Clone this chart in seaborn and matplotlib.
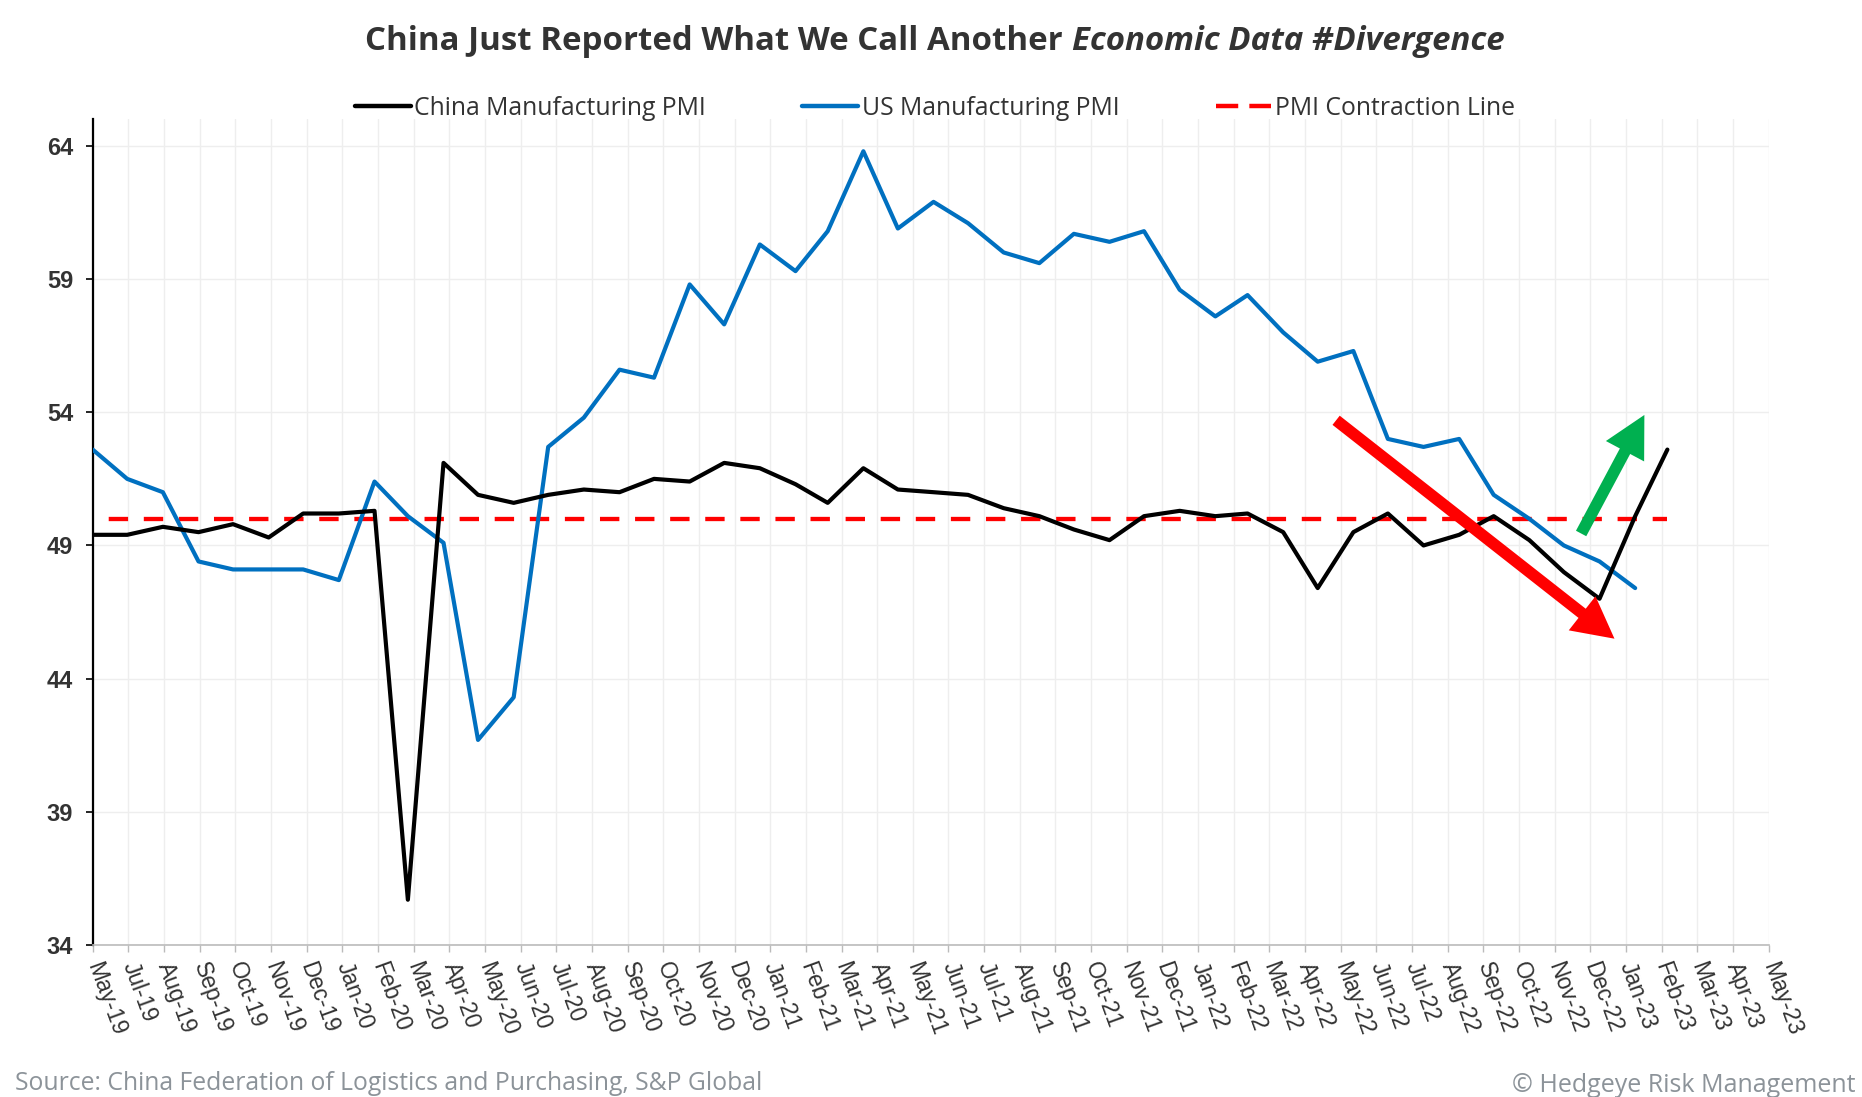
import matplotlib
matplotlib.use("Agg")
import matplotlib.pyplot as plt
import matplotlib.dates as mdates
from matplotlib.lines import Line2D
from matplotlib.patches import FancyArrowPatch
from matplotlib.offsetbox import TextArea, HPacker, AnchoredOffsetbox
import seaborn as sns
import pandas as pd

# ---------------- data ----------------
china_dates = pd.date_range(start="2019-05-31", end="2023-02-28", freq="ME")
us_dates = pd.date_range(start="2019-05-31", end="2023-01-31", freq="ME")

china_pmi = [49.4, 49.4, 49.7, 49.5, 49.8, 49.3, 50.2, 50.2,
             50.3, 35.7, 52.1, 50.9, 50.6, 50.9, 51.1, 51.0, 51.5, 51.4, 52.1, 51.9,
             51.3, 50.6, 51.9, 51.1, 51.0, 50.9, 50.4, 50.1, 49.6, 49.2, 50.1, 50.3,
             50.1, 50.2, 49.5, 47.4, 49.5, 50.2, 49.0, 49.4, 50.1, 49.2, 48.0, 47.0,
             50.1, 52.6]
us_pmi = [52.6, 51.5, 51.0, 48.4, 48.1, 48.1, 48.1, 47.7,
          51.4, 50.1, 49.1, 41.7, 43.3, 52.7, 53.8, 55.6, 55.3, 58.8, 57.3, 60.3,
          59.3, 60.8, 63.8, 60.9, 61.9, 61.1, 60.0, 59.6, 60.7, 60.4, 60.8, 58.6,
          57.6, 58.4, 57.0, 55.9, 56.3, 53.0, 52.7, 53.0, 50.9, 50.0, 49.0, 48.4,
          47.4]
contraction_level = 50.0

y_ticks = [34, 39, 44, 49, 54, 59, 64]
x_tick_labels = ["May-19", "Jul-19", "Aug-19", "Sep-19", "Oct-19", "Nov-19", "Dec-19",
                 "Jan-20", "Feb-20", "Mar-20", "Apr-20", "May-20", "Jun-20", "Jul-20",
                 "Aug-20", "Sep-20", "Oct-20", "Nov-20", "Dec-20", "Jan-21", "Feb-21",
                 "Mar-21", "Apr-21", "May-21", "Jun-21", "Jul-21", "Aug-21", "Sep-21",
                 "Oct-21", "Nov-21", "Dec-21", "Jan-22", "Feb-22", "Mar-22", "Apr-22",
                 "May-22", "Jun-22", "Jul-22", "Aug-22", "Sep-22", "Oct-22", "Nov-22",
                 "Dec-22", "Jan-23", "Feb-23", "Mar-23", "Apr-23", "May-23"]
x_tick_dates = pd.date_range(start="2019-05-31", periods=len(x_tick_labels), freq="31D")

title_main = "China Just Reported What We Call Another"
title_italic = "Economic Data #Divergence"
series_names = ["China Manufacturing PMI", "US Manufacturing PMI", "PMI Contraction Line"]
source_text = "Source: China Federation of Logistics and Purchasing, S&P Global"
credit_text = "\u00a9 Hedgeye Risk Management"

# ---------------- style ----------------
sns.set_theme(style="white")
plt.rcParams["font.family"] = ["Open Sans", "DejaVu Sans"]

W, H = 1862, 1097
fig = plt.figure(figsize=(W / 100, H / 100), dpi=100)
left_px, right_px, top_px, bottom_px = 92.7, 1768.6, 119.3, 945.0
ax = fig.add_axes([left_px / W, 1 - bottom_px / H, (right_px - left_px) / W, (bottom_px - top_px) / H])

china_df = pd.DataFrame({"date": china_dates, "pmi": china_pmi})
us_df = pd.DataFrame({"date": us_dates, "pmi": us_pmi})
contr_df = pd.DataFrame({"date": [china_dates[0], china_dates[-1]],
                         "pmi": [contraction_level, contraction_level]})

BLUE = "#0070C0"
RED = "#FF0000"
GREEN = "#00B050"

sns.lineplot(data=contr_df, x="date", y="pmi", ax=ax, color=RED, lw=3.1,
             linestyle=(4.5, (4.5, 3.65)), zorder=2)
sns.lineplot(data=us_df, x="date", y="pmi", ax=ax, color=BLUE, lw=3.0, zorder=3)
sns.lineplot(data=china_df, x="date", y="pmi", ax=ax, color="black", lw=3.0, zorder=4)
for ln in ax.get_lines():
    ln.set_solid_joinstyle("round")
    ln.set_solid_capstyle("round")

# axes
ax.set_xlim(x_tick_dates[0], x_tick_dates[-1])
ax.set_ylim(34, 65)
ax.set_yticks(y_ticks)
ax.set_yticklabels([str(v) for v in y_ticks], fontsize=17, fontweight="bold",
                   color="#333333", family="Liberation Sans")
ax.set_xticks(x_tick_dates)
ax.set_xticklabels(x_tick_labels, rotation=-70, ha="left", va="center",
                   rotation_mode="anchor", fontsize=16.5, color="#333333",
                   family="Liberation Sans")
ax.set_xlabel("")
ax.set_ylabel("")
ax.grid(True, color="#EEEEEE", lw=1.0)
ax.set_axisbelow(True)
for s in ["top", "right"]:
    ax.spines[s].set_visible(False)
ax.spines["left"].set_color("black")
ax.spines["left"].set_linewidth(1.6)
ax.spines["bottom"].set_color("#BBBBBB")
ax.spines["bottom"].set_linewidth(1.2)
ax.tick_params(axis="y", which="major", length=5, width=1.2, color="black", pad=9, left=True)
ax.tick_params(axis="x", which="major", length=5, width=1.0, color="#BBBBBB", pad=8, bottom=True)

# arrows (annotations)
d2n = mdates.date2num
red_arrow = FancyArrowPatch(
    (d2n(pd.Timestamp("2022-05-16")), 53.7), (d2n(pd.Timestamp("2023-01-13")), 45.5),
    arrowstyle="simple,head_width=3.9,head_length=3.7,tail_width=1.05",
    mutation_scale=8, color=RED, shrinkA=0, shrinkB=0, zorder=6, lw=0)
ax.add_patch(red_arrow)
green_arrow = FancyArrowPatch(
    (d2n(pd.Timestamp("2022-12-15")), 49.45), (d2n(pd.Timestamp("2023-02-08")), 53.9),
    arrowstyle="simple,head_width=3.9,head_length=3.7,tail_width=1.05",
    mutation_scale=8, color=GREEN, shrinkA=0, shrinkB=0, zorder=6, lw=0)
ax.add_patch(green_arrow)

# legend
handles = [Line2D([0], [0], color="black", lw=3.2, solid_capstyle="round"),
           Line2D([0], [0], color=BLUE, lw=3.2, solid_capstyle="round"),
           Line2D([0], [0], color=RED, lw=3.2, linestyle=(0, (5.0, 2.5)))]
fig.legend(handles, series_names, loc="center", bbox_to_anchor=(935 / W, 1 - 108.5 / H),
           ncol=3, frameon=False, fontsize=17.8, handlelength=2.25, handletextpad=0.15,
           columnspacing=3.9, labelcolor="#333333")

# title with italic part
tp = dict(fontsize=23.8, fontweight="bold", color="#333333", family="Open Sans")
tpi = dict(tp, style="italic")
box = HPacker(children=[TextArea(title_main, textprops=tp), TextArea(title_italic, textprops=tpi)],
              align="baseline", pad=0, sep=6.5)
anch = AnchoredOffsetbox(loc="center", child=box, frameon=False, pad=0, borderpad=0,
                         bbox_to_anchor=(935 / W, 1 - 42 / H), bbox_transform=fig.transFigure)
fig.add_artist(anch)

# footer
fig.text(15 / W, 1 - 1083 / H, source_text, fontsize=17.8, color="#8C9399", ha="left", va="center")
fig.text(1856 / W, 1 - 1085 / H, credit_text, fontsize=18, color="#8C9399", ha="right", va="center")

fig.savefig("out.png", dpi=100, facecolor="white")
